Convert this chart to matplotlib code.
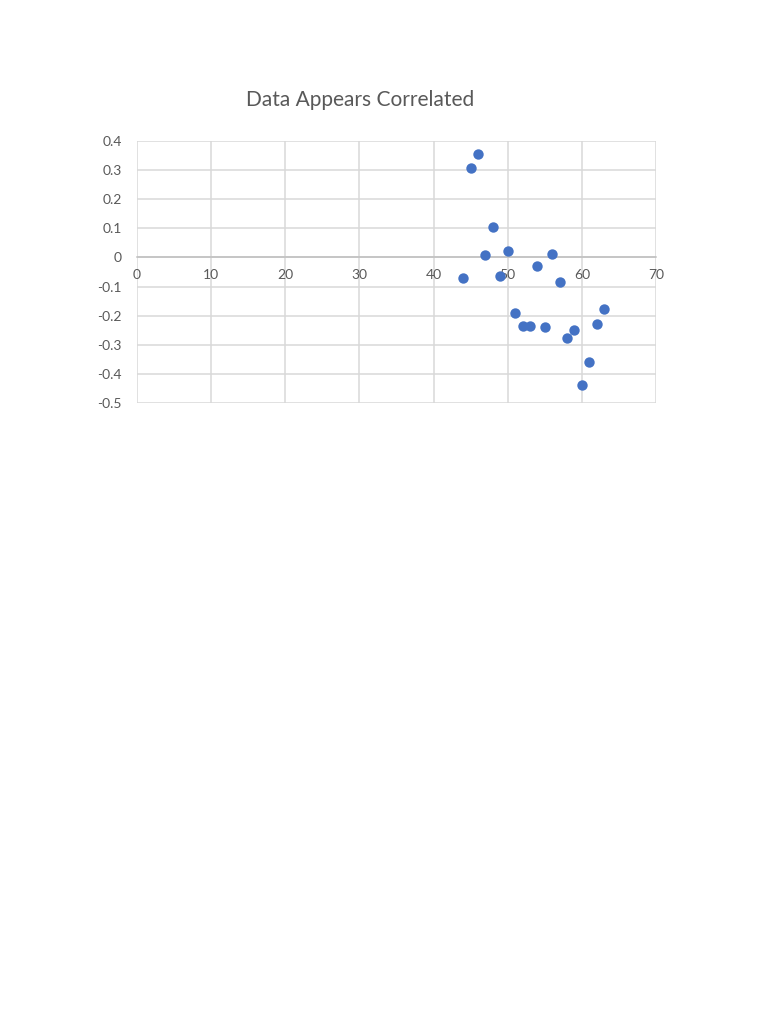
import matplotlib
matplotlib.use("Agg")
import matplotlib.pyplot as plt

x_vals = [44, 45, 46, 47, 48, 49, 50, 51, 52, 53, 54, 55, 56, 57, 58, 59, 60, 61, 62, 63]
y_vals = [-0.069, 0.308, 0.357, 0.010, 0.103, -0.065, 0.021, -0.190, -0.235, -0.237,
          -0.028, -0.240, 0.011, -0.083, -0.275, -0.250, -0.438, -0.359, -0.227, -0.177]
x_ticks = [0, 10, 20, 30, 40, 50, 60, 70]
y_ticks = [-0.5, -0.4, -0.3, -0.2, -0.1, 0, 0.1, 0.2, 0.3, 0.4]
y_labels = ["-0.5", "-0.4", "-0.3", "-0.2", "-0.1", "0", "0.1", "0.2", "0.3", "0.4"]
title = "Data Appears Correlated"

plt.rcParams['font.family'] = ['Lato', 'DejaVu Sans']
fig = plt.figure(figsize=(7.68, 10.24), dpi=100)
ax = fig.add_axes([137/768, 1-403/1024, 519/768, 262/1024])

grid_c = "#d9d9d9"
text_c = "#595959"
ax.scatter(x_vals, y_vals, s=56, color="#4472C4", zorder=3, linewidths=0)
ax.set_xlim(0, 70)
ax.set_ylim(-0.5, 0.4)
ax.set_xticks(x_ticks)
ax.set_yticks(y_ticks)
ax.set_yticklabels(y_labels)
ax.grid(True, color=grid_c, linewidth=1.1)
ax.set_axisbelow(True)
for s in ['top', 'right', 'left']:
    ax.spines[s].set_visible(False)
ax.spines['bottom'].set_position(('data', 0))
ax.spines['bottom'].set_color("#bfbfbf")
ax.spines['bottom'].set_linewidth(1.1)
ax.tick_params(axis='both', length=0, labelsize=10, labelcolor=text_c)
ax.tick_params(axis='y', pad=11)
ax.tick_params(axis='x', pad=8)
fig.text(360/768, 1-100/1024, title, ha='center', va='center', fontsize=15, color=text_c)

fig.savefig("out.png", dpi=100, facecolor="white")
